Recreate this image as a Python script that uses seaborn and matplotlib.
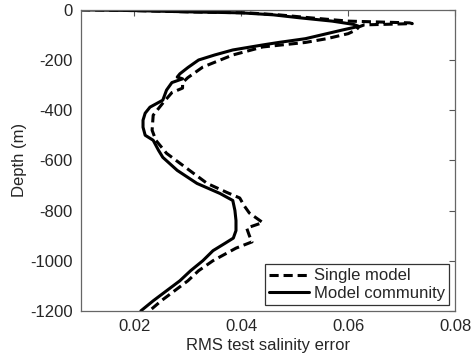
import matplotlib
matplotlib.use('Agg')
import matplotlib.pyplot as plt
import seaborn as sns
import pandas as pd

sns.set_style('white')
plt.rcParams['font.family'] = ['Liberation Sans', 'DejaVu Sans']
plt.rcParams['axes.unicode_minus'] = False

# profundidade (m) e erro RMS - modelo único (tracejado)
depth_single = [0, -3, -8, -12, -20, -32, -45, -52, -55, -60, -68, -80, -95, -115,
                -130, -148, -180, -228, -270, -290, -312, -330, -372, -420, -480,
                -520, -572, -632, -692, -728, -750, -780, -810, -848, -870, -900,
                -925, -950, -1000, -1040, -1080, -1120, -1160, -1200]
rms_single = [0.010, 0.020, 0.030, 0.041, 0.047, 0.053, 0.060, 0.0715, 0.072, 0.063,
              0.062, 0.0615, 0.060, 0.056, 0.052, 0.044, 0.0384, 0.0328, 0.030,
              0.029, 0.029, 0.027, 0.0253, 0.0235, 0.0233, 0.024, 0.026, 0.0298,
              0.0336, 0.0373, 0.0397, 0.0405, 0.0415, 0.044, 0.041, 0.0415, 0.042,
              0.039, 0.0347, 0.032, 0.030, 0.0275, 0.025, 0.0228]

# comunidade de modelos (linha cheia)
depth_comm = [0, -3, -8, -12, -20, -32, -45, -58, -66, -80, -95, -115, -130, -140,
              -160, -180, -200, -230, -255, -268, -275, -290, -320, -360, -388, -412,
              -440, -468, -500, -520, -560, -588, -640, -692, -732, -760, -800, -840,
              -880, -910, -930, -960, -1000, -1040, -1080, -1120, -1160, -1200]
rms_comm = [0.010, 0.020, 0.030, 0.040, 0.046, 0.051, 0.057, 0.061, 0.062, 0.059,
            0.056, 0.052, 0.047, 0.044, 0.0384, 0.035, 0.032, 0.030, 0.0285, 0.028,
            0.029, 0.027, 0.026, 0.0253, 0.0229, 0.022, 0.0216, 0.0216, 0.022,
            0.0235, 0.0245, 0.0253, 0.028, 0.0317, 0.036, 0.0384, 0.0388, 0.039,
            0.039, 0.0385, 0.037, 0.0347, 0.0328, 0.0305, 0.0285, 0.026, 0.0235,
            0.0212]

x_ticks = [0.02, 0.04, 0.06, 0.08]
y_ticks = [0, -200, -400, -600, -800, -1000, -1200]

single = pd.DataFrame({'rms': rms_single, 'depth': depth_single})
comm = pd.DataFrame({'rms': rms_comm, 'depth': depth_comm})

fig = plt.figure(figsize=(4.74, 3.64), dpi=100)
ax = fig.add_axes([0.171, 0.146, 0.789, 0.827])

sns.lineplot(data=single, x='rms', y='depth', sort=False, estimator=None,
             color='black', lw=2.2, linestyle=(0, (3, 1.6)),
             label='Single model', ax=ax)
sns.lineplot(data=comm, x='rms', y='depth', sort=False, estimator=None,
             color='black', lw=2.2, label='Model community', ax=ax)

ax.set_xlim(0.01, 0.08)
ax.set_ylim(-1200, 0)
ax.set_xticks(x_ticks)
ax.set_xticklabels(['0.02', '0.04', '0.06', '0.08'])
ax.set_yticks(y_ticks)
ax.tick_params(direction='in', top=True, right=True, length=4,
               labelsize=12, color='#555555', pad=6)
for s in ax.spines.values():
    s.set_color('#666666')
    s.set_linewidth(0.9)

ax.set_xlabel('RMS test salinity error', fontsize=12, labelpad=3)
ax.set_ylabel('Depth (m)', fontsize=12, labelpad=2)

leg = ax.legend(loc='lower right', fontsize=12, frameon=True, fancybox=False,
                handlelength=2.4, handletextpad=0.3, borderpad=0.25,
                labelspacing=0.15, borderaxespad=0.35)
leg.get_frame().set_edgecolor('black')
leg.get_frame().set_linewidth(0.9)

fig.savefig('out.png', dpi=100)
